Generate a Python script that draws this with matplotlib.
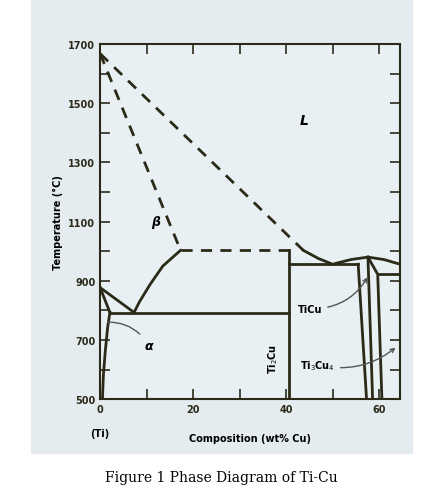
import matplotlib
matplotlib.use("Agg")
import matplotlib.pyplot as plt
from matplotlib.patches import Rectangle

# Data (wt% Cu, temperature °C)
liq_left_x = [0, 17.3]; liq_left_y = [1668, 1003]
liq_right_dash_x = [0, 43.7]; liq_right_dash_y = [1668, 1003]
peritectic_dash_x = [17.3, 40.6]; peritectic_dash_y = [1003, 1003]
beta_x = [7.3, 8.5, 10.8, 13.5, 17.3]; beta_y = [793, 830, 889, 950, 1003]
ab_upper_x = [0, 7.3]; ab_upper_y = [877, 793]
ab_lower_x = [0, 2.1]; ab_lower_y = [877, 793]
alpha_solv_x = [2.1, 1.6, 1.1, 0.7, 0.5]; alpha_solv_y = [793, 740, 660, 580, 500]
eutectoid_x = [2.1, 40.6]; eutectoid_y = [790, 790]
ti2cu_x = [40.6, 40.6]; ti2cu_y = [500, 1003]
eut2_x = [40.6, 55.5]; eut2_y = [956, 956]
liq2_x = [43.7, 47, 50, 54, 57.6, 61, 64.5]; liq2_y = [1003, 975, 956, 972, 980, 972, 956]
ticu_l_x = [55.5, 57.3]; ticu_l_y = [956, 500]
ticu_r_x = [57.6, 58.6]; ticu_r_y = [980, 500]
ti3cu4_x = [57.6, 59.7, 60.6]; ti3cu4_y = [980, 922, 500]
per2_x = [59.7, 64.5]; per2_y = [922, 922]

fig = plt.figure(figsize=(4.43, 5.02), dpi=100)
bg = Rectangle((0.07, 0.095), 0.86, 0.905, transform=fig.transFigure,
               color="#e4ecf0", zorder=-10)
fig.add_artist(bg)
ax = fig.add_axes([0.226, 0.203, 0.677, 0.707])
ax.set_zorder(5)
ax.set_facecolor("#e9f0f3")
c = "#2b2a18"; lw = 2.0
for xs, ys in [(liq_left_x, liq_left_y), (liq_right_dash_x, liq_right_dash_y),
               (peritectic_dash_x, peritectic_dash_y)]:
    ax.plot(xs, ys, color=c, lw=lw, ls=(0, (4, 3)))
for xs, ys in [(beta_x, beta_y), (ab_upper_x, ab_upper_y), (ab_lower_x, ab_lower_y),
               (alpha_solv_x, alpha_solv_y), (eutectoid_x, eutectoid_y), (ti2cu_x, ti2cu_y),
               (eut2_x, eut2_y), (liq2_x, liq2_y), (ticu_l_x, ticu_l_y), (ticu_r_x, ticu_r_y),
               (ti3cu4_x, ti3cu4_y), (per2_x, per2_y)]:
    ax.plot(xs, ys, color=c, lw=lw)

ax.set_xlim(0, 64.5); ax.set_ylim(500, 1700)
ax.set_xticks([0, 10, 20, 30, 40, 50, 60])
ax.set_xticklabels(["0", "", "20", "", "40", "", "60"], fontsize=7, fontweight="bold")
ax.set_yticks(range(500, 1701, 100))
ax.set_yticklabels([str(v) if v % 200 == 100 else "" for v in range(500, 1701, 100)],
                   fontsize=7, fontweight="bold")
ax.tick_params(direction="in", length=7, width=1.2, right=True, top=True, colors=c)
for s in ax.spines.values():
    s.set_linewidth(1.5); s.set_color(c)
ax.set_ylabel("Temperature (°C)", fontsize=7, fontweight="bold", labelpad=4)
ax.set_xlabel("Composition (wt% Cu)", fontsize=7, fontweight="bold", labelpad=14)
ax.text(0, 385, "(Ti)", fontsize=7, fontweight="bold", ha="center", va="center")

ax.text(43, 1430, "L", fontsize=10, fontweight="bold", style="italic")
ax.text(11, 1090, "β", fontsize=9, fontweight="bold", style="italic")
ax.text(37.2, 640, "Ti$_2$Cu", fontsize=7, fontweight="bold", rotation=90, ha="center", va="center")
ax.annotate("α", xy=(1.0, 760), xytext=(9.5, 670), fontsize=9, style="italic", fontweight="bold",
            arrowprops=dict(arrowstyle="-", color="#555", connectionstyle="arc3,rad=0.3"))
ax.annotate("TiCu", xy=(57.8, 920), xytext=(42.5, 795), fontsize=7, fontweight="bold",
            arrowprops=dict(arrowstyle="->", color="#555", connectionstyle="arc3,rad=0.3"))
ax.annotate("Ti$_3$Cu$_4$", xy=(64, 680), xytext=(43, 605), fontsize=7, fontweight="bold",
            arrowprops=dict(arrowstyle="->", color="#555", connectionstyle="arc3,rad=0.25"))

fig.text(0.5, 0.047, "Figure 1 Phase Diagram of Ti-Cu", ha="center", va="center",
         fontsize=10, family="DejaVu Serif")
fig.savefig("out.png", dpi=100)
